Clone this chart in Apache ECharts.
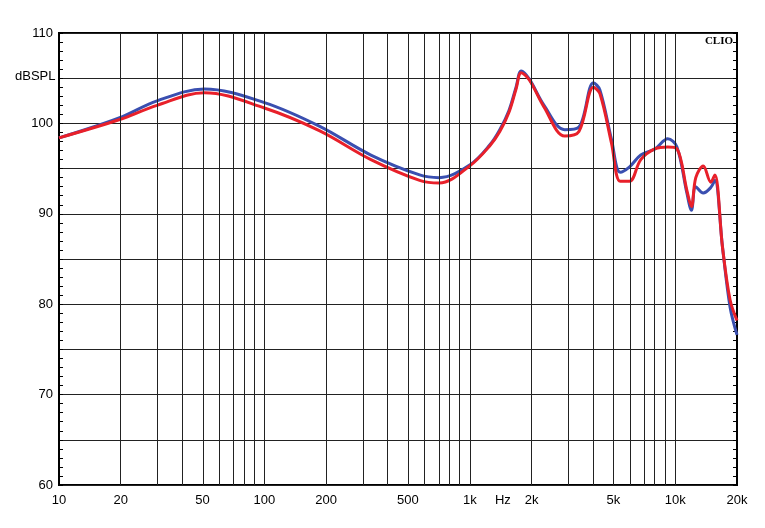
<!DOCTYPE html>
<html>
<head>
<meta charset="utf-8">
<script src="https://cdn.jsdelivr.net/npm/echarts@6/dist/echarts.min.js"></script>
<style>html,body{margin:0;background:#fff}#chart{width:765px;height:528px}</style>
</head>
<body>
<div id="chart"></div>
<script>
// frequencies (Hz) and levels (dB SPL)
const freqs = [10, 19.6, 30, 51, 100, 185, 330, 570, 710, 1000, 1250, 1400, 1550, 1680, 1780, 1950, 2300, 2900, 3400, 4000, 4300, 4900, 5400, 6000, 6800, 8000, 9200, 10200, 11400, 12000, 12600, 13700, 14900, 15600, 17000, 18500, 20000];
const blue = [98.4, 100.6, 102.5, 103.8, 102.3, 99.7, 96.5, 94.3, 94.0, 95.4, 97.6, 99.3, 101.4, 104.0, 105.8, 104.9, 102.0, 99.3, 99.6, 104.5, 103.7, 98.2, 94.6, 95.2, 96.5, 97.2, 98.3, 97.4, 92.3, 90.4, 93.0, 92.3, 92.9, 93.7, 86.3, 79.7, 76.6];
const red  = [98.4, 100.4, 102.0, 103.4, 101.7, 99.2, 96.0, 93.7, 93.4, 95.3, 97.5, 99.1, 101.2, 103.8, 105.6, 104.8, 101.8, 98.6, 99.1, 104.0, 103.3, 97.8, 93.6, 93.6, 96.0, 97.2, 97.4, 97.2, 92.6, 90.8, 94.0, 95.3, 93.5, 94.3, 86.3, 80.5, 78.2];
const gridFreqs = [20,30,40,50,60,70,80,90,100,200,300,400,500,600,700,800,900,1000,2000,3000,4000,5000,6000,7000,8000,9000,10000];
const tickFreqs = [10, 20, 50, 100, 200, 500, 1000, 1450, 2000, 5000, 10000, 20000];
const tickNames = ['10', '20', '50', '100', '200', '500', '1k', 'Hz', '2k', '5k', '10k', '20k'];

const lg = Math.log10;
const toPts = arr => freqs.map((f, i) => [lg(f), arr[i]]);
const labelMap = {};
tickFreqs.forEach((f, i) => { labelMap[lg(f).toFixed(4)] = tickNames[i]; });

const chart = echarts.init(document.getElementById('chart'));
const yBase = {type: 'value', min: 60, max: 110};
chart.setOption({
  animation: false,
  grid: {left: 59, right: 28, top: 33, bottom: 43, show: true, borderColor: '#000', borderWidth: 2},
  xAxis: {type: 'value', min: 1, max: lg(20000),
    axisLine: {show: false}, axisTick: {show: false}, splitLine: {show: false},
    axisLabel: {customValues: tickFreqs.map(lg), formatter: v => labelMap[v.toFixed(4)] || '',
      color: '#000', fontSize: 13, fontFamily: 'Liberation Sans', margin: 9, showMinLabel: true, showMaxLabel: true}},
  yAxis: [
    Object.assign({}, yBase, {interval: 10,
      axisLabel: {color: '#000', fontSize: 13, fontFamily: 'Liberation Sans', margin: 6},
      axisLine: {show: false}, axisTick: {show: false},
      splitLine: {lineStyle: {color: '#222', width: 1}},
      minorTick: {show: false, splitNumber: 2},
      minorSplitLine: {show: true, lineStyle: {color: '#222', width: 1}}}),
    Object.assign({}, yBase, {interval: 1, position: 'left', axisLabel: {show: false},
      axisLine: {show: false}, splitLine: {show: false},
      axisTick: {inside: true, length: 4, lineStyle: {color: '#000'}}}),
    Object.assign({}, yBase, {interval: 1, position: 'right', axisLabel: {show: false},
      axisLine: {show: false}, splitLine: {show: false},
      axisTick: {inside: true, length: 4, lineStyle: {color: '#000'}}})
  ],
  graphic: [
    {type: 'text', left: 15, top: 70, style: {text: 'dBSPL', fill: '#000', font: '13px Liberation Sans'}},
    {type: 'text', right: 32, top: 36, style: {text: 'CLIO', fill: '#000', font: 'bold 11px Liberation Serif'}}
  ],
  series: [
    {type: 'line', data: [], symbol: 'none', silent: true,
     markLine: {symbol: 'none', silent: true, animation: false, label: {show: false},
       lineStyle: {color: '#222', width: 1, type: 'solid'}, data: gridFreqs.map(f => ({xAxis: lg(f)}))}},
    {type: 'line', data: toPts(blue), smooth: 0.35, symbol: 'none', lineStyle: {color: '#3a4fb0', width: 3}, z: 3},
    {type: 'line', data: toPts(red), smooth: 0.35, symbol: 'none', lineStyle: {color: '#e8202a', width: 3}, z: 4}
  ]
});
</script>
</body>
</html>
